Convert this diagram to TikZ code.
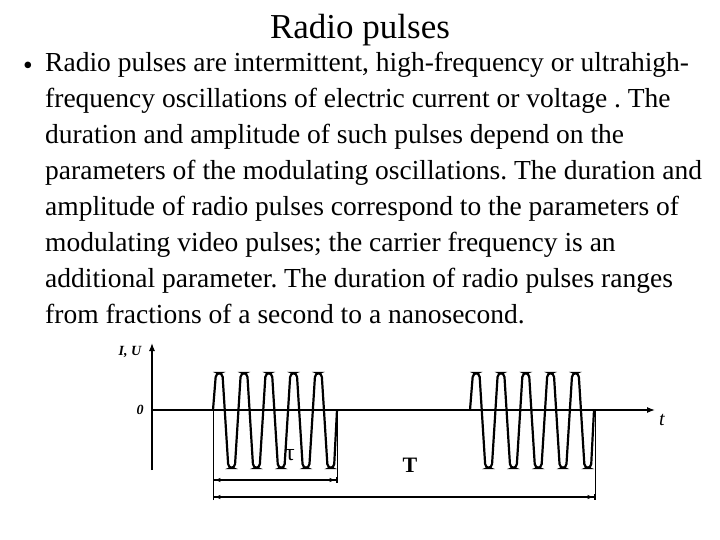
\documentclass[tikz,border=0pt]{standalone}
\usepackage{fontspec}
\setmainfont{Liberation Serif}
\usetikzlibrary{arrows.meta}
\frenchspacing
\begin{document}
\begin{tikzpicture}[x=1pt,y=-1pt,
  txt/.style={inner sep=0pt,font=\fontsize{27.5}{36}\selectfont},
  wave/.style={line width=2.2pt,rounded corners=4pt},
  axis/.style={line width=1.2pt},
  dim/.style={line width=1.4pt,{Bar[width=6pt]Latex[length=6pt]}-{Latex[length=6pt]Bar[width=6pt]}}]
\useasboundingbox (0,0) rectangle (720,540);
\node[txt,font=\fontsize{35}{36}\selectfont] (title) at (360,30) {Radio pulses};
\node[txt] (bul) at (28,68) {•};
\node[txt,anchor=north west,align=left] (body) at (45,52) {Radio pulses are intermittent, high-frequency or ultrahigh-\\
frequency oscillations of electric current or voltage . The\\
duration and amplitude of such pulses depend on the\\
parameters of the modulating oscillations. The duration and\\
amplitude of radio pulses correspond to the parameters of\\
modulating video pulses; the carrier frequency is an\\
additional parameter. The duration of radio pulses ranges\\
from fractions of a second to a nanosecond.};
% axes
\coordinate (yb) at (152,470); \coordinate (yt) at (152,343);
\coordinate (xl) at (152,410); \coordinate (xr) at (655,410);
\draw[axis,-{Latex[length=8pt]}] (yb) -- (yt);
\draw[axis,-{Latex[length=8pt]}] (xl) -- (xr);
\node[inner sep=0pt,font=\fontsize{14}{14}\selectfont\bfseries\itshape] (iu) at (130,352) {I, U};
\node[inner sep=0pt,font=\fontsize{14}{14}\selectfont\bfseries\itshape] (z) at (140,410) {0};
\node[inner sep=0pt,font=\fontsize{20}{20}\selectfont\itshape] (t) at (662,420) {t};
% pulses
\foreach \x in {213,470}{
  \pgfmathsetmacro{\P}{24.8}
  \draw[wave] (\x,410)
    \foreach \k in {0,...,4}{
      -- ({\x+\k*\P+0.12*\P},373) -- ({\x+\k*\P+0.38*\P},373)
      -- ({\x+\k*\P+0.62*\P},468) -- ({\x+\k*\P+0.88*\P},468)
    } -- ({\x+5*\P},410);
}
\coordinate (a1) at (213,480); \coordinate (a2) at (337,480);
\coordinate (b1) at (213,497); \coordinate (b2) at (595,497);
\draw[line width=1pt] (213,410) -- (213,500);
\draw[line width=1pt] (337,410) -- (337,483);
\draw[line width=1pt] (595,410) -- (595,500);
\draw[dim] (a1) -- (a2);
\draw[dim] (b1) -- (b2);
\node[inner sep=0pt,font=\fontsize{24}{24}\selectfont] (tau) at (290,455) {τ};
\node[inner sep=0pt,font=\fontsize{22}{22}\selectfont\bfseries] (T) at (410,465) {T};
\end{tikzpicture}
\end{document}
